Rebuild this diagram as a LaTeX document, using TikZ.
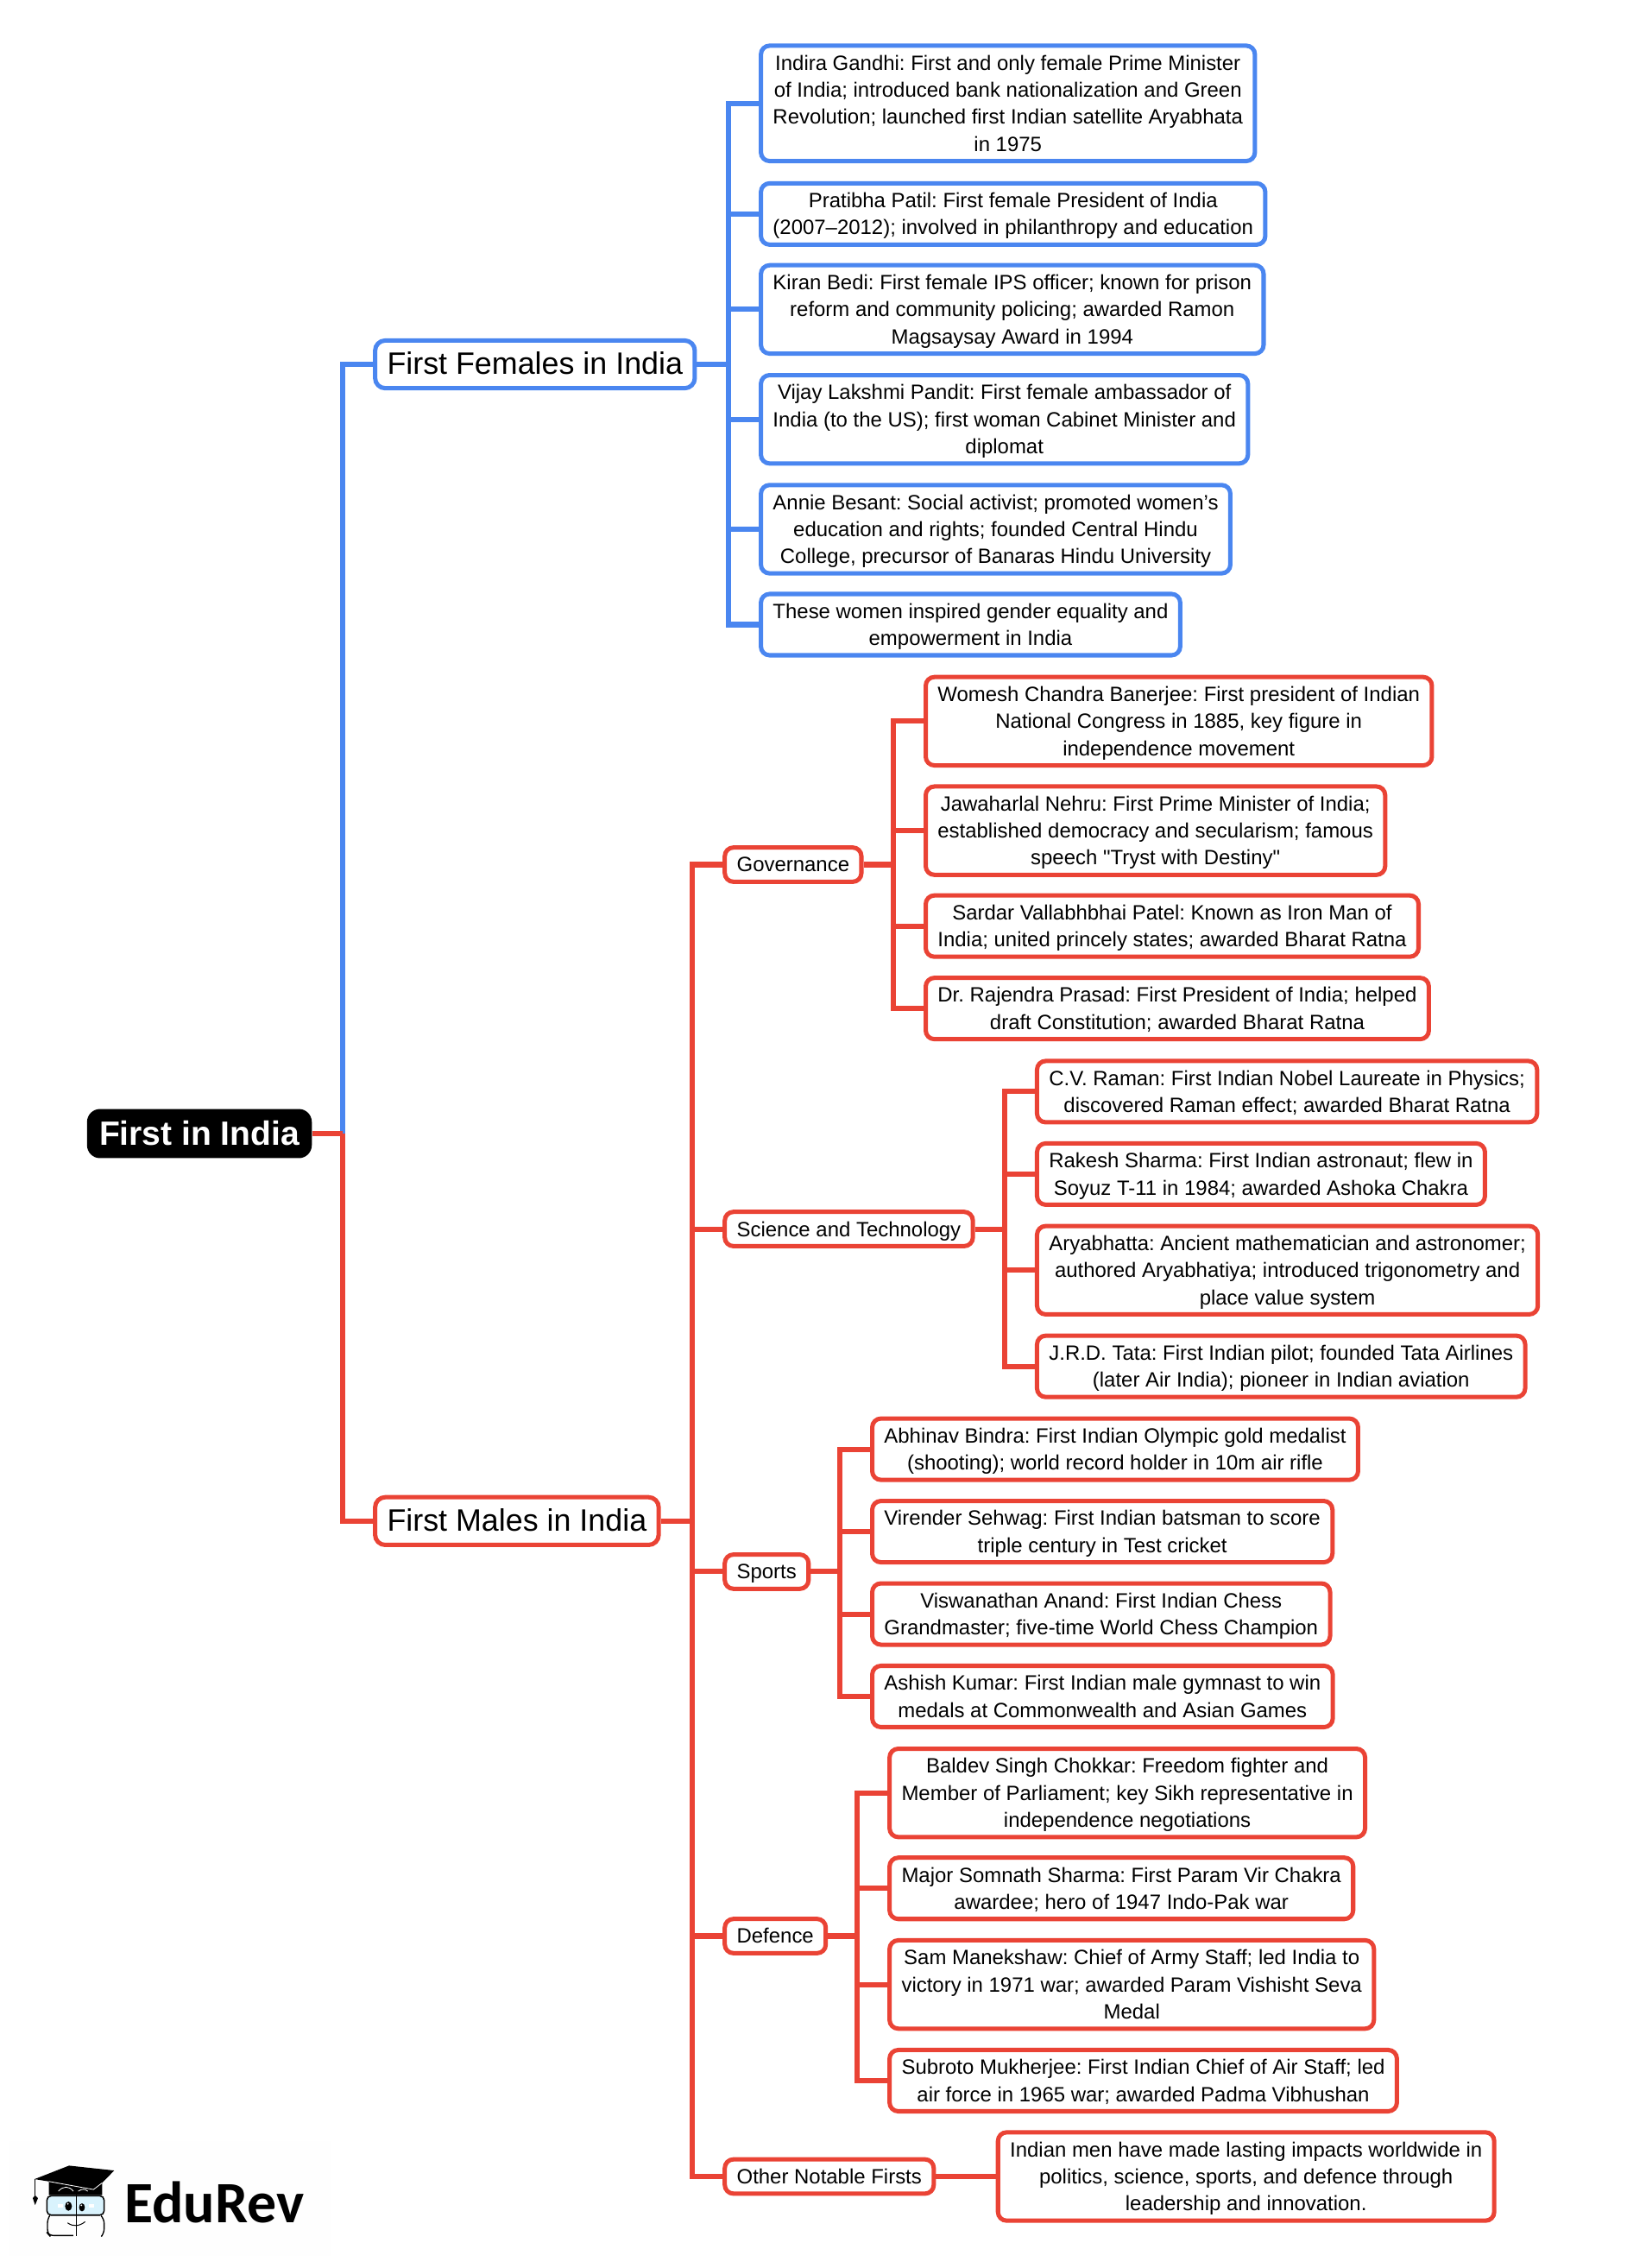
\documentclass[tikz,border=0pt]{standalone}
\usepackage{fontspec}
\setmainfont{Liberation Sans}
\newfontfamily\quotefont{Liberation Sans}
\newfontfamily\logofont{Carlito}
\usetikzlibrary{calc}
\definecolor{bluelink}{HTML}{4A86F0}
\definecolor{redlink}{HTML}{EA4335}
\def\plainquote{{\quotefont"}}
\tikzset{
	rootbox/.style={anchor=west, fill=black, text=white, rounded corners=9, inner xsep=8.5, inner ysep=3,
		text height=22.2pt, text depth=5.8pt, font=\fontsize{23.3}{28}\selectfont\bfseries},
	topbox/.style={anchor=west, draw, line width=3, rounded corners=7, inner xsep=8.3, inner ysep=3.5,
		text height=19.7pt, text depth=6.3pt, font=\fontsize{21.4}{26}\selectfont},
	leafbox/.style={anchor=west, draw, line width=3, rounded corners=6, align=center, inner xsep=8.3, inner ysep=2.5,
		text height=14.4pt, text depth=4.3pt, font=\fontsize{14.3}{18.7}\selectfont\frenchspacing},
	lines2/.style={text height=33.1pt},
	lines3/.style={text height=51.8pt},
	lines4/.style={text height=70.5pt},
	femalebox/.style={leafbox, draw=bluelink},
	malebox/.style={leafbox, draw=redlink},
	bluewire/.style={draw=bluelink, line width=3.6},
	redwire/.style={draw=redlink, line width=3.6}
}

\begin{document}
\begin{tikzpicture}[x=1pt, y=-1pt]
		%%%%% START %%%%%
		\useasboundingbox (0, 0) rectangle (1125, 1568.6);
		
		\node[rootbox] (root) at (60, 784) {First in India};
		\node[topbox, draw=bluelink] (females) at (258, 252) {First Females in India};
		\node[topbox, draw=redlink] (males) at (258, 1052) {First Males in India};
		
		\coordinate (trunk) at (237, 784);
		\coordinate (femalebus) at (504, 252);
		\coordinate (malebus) at (479, 1052);
		\coordinate (govbus) at (618, 598);
		\coordinate (scibus) at (695, 850);
		\coordinate (sportbus) at (581, 1087);
		\coordinate (defbus) at (593, 1339);
		
		\node[femalebox, lines4] (fem1) at (524.9, 71.5) {Indira Gandhi: First and only female Prime Minister\\of India; introduced bank nationalization and Green\\Revolution; launched first Indian satellite Aryabhata\\in 1975};
		\node[femalebox, lines2] (fem2) at (524.9, 148) {Pratibha Patil: First female President of India\\(2007--2012); involved in philanthropy and education};
		\node[femalebox, lines3] (fem3) at (524.9, 214) {Kiran Bedi: First female IPS officer; known for prison\\reform and community policing; awarded Ramon\\Magsaysay Award in 1994};
		\node[femalebox, lines3] (fem4) at (524.9, 290) {Vijay Lakshmi Pandit: First female ambassador of\\India (to the US); first woman Cabinet Minister and\\diplomat};
		\node[femalebox, lines3] (fem5) at (524.9, 366) {Annie Besant: Social activist; promoted women's\\education and rights; founded Central Hindu\\College, precursor of Banaras Hindu University};
		\node[femalebox, lines2] (fem6) at (524.9, 432) {These women inspired gender equality and\\empowerment in India};
		
		\node[malebox] (gov) at (499.9, 598) {Governance};
		\node[malebox] (sci) at (499.9, 850) {Science and Technology};
		\node[malebox] (sport) at (499.9, 1087) {Sports};
		\node[malebox] (def) at (499.9, 1339) {Defence};
		\node[malebox] (other) at (499.9, 1505.3) {Other Notable Firsts};
		
		\node[malebox, lines3] (gov1) at (638.9, 498.8) {Womesh Chandra Banerjee: First president of Indian\\National Congress in 1885, key figure in\\independence movement};
		\node[malebox, lines3] (gov2) at (638.9, 574.5) {Jawaharlal Nehru: First Prime Minister of India;\\established democracy and secularism; famous\\speech \plainquote Tryst with Destiny\plainquote};
		\node[malebox, lines2] (gov3) at (638.9, 640.5) {Sardar Vallabhbhai Patel: Known as Iron Man of\\India; united princely states; awarded Bharat Ratna};
		\node[malebox, lines2] (gov4) at (638.9, 697.5) {Dr. Rajendra Prasad: First President of India; helped\\draft Constitution; awarded Bharat Ratna};
		
		\node[malebox, lines2] (sci1) at (715.9, 755) {C.V. Raman: First Indian Nobel Laureate in Physics;\\discovered Raman effect; awarded Bharat Ratna};
		\node[malebox, lines2] (sci2) at (715.9, 812) {Rakesh Sharma: First Indian astronaut; flew in\\Soyuz T-11 in 1984; awarded Ashoka Chakra};
		\node[malebox, lines3] (sci3) at (715.9, 878.5) {Aryabhatta: Ancient mathematician and astronomer;\\authored Aryabhatiya; introduced trigonometry and\\place value system};
		\node[malebox, lines2] (sci4) at (715.9, 945) {J.R.D. Tata: First Indian pilot; founded Tata Airlines\\(later Air India); pioneer in Indian aviation};
		
		\node[malebox, lines2] (sport1) at (601.9, 1002.3) {Abhinav Bindra: First Indian Olympic gold medalist\\(shooting); world record holder in 10m air rifle};
		\node[malebox, lines2] (sport2) at (601.9, 1059.3) {Virender Sehwag: First Indian batsman to score\\triple century in Test cricket};
		\node[malebox, lines2] (sport3) at (601.9, 1116.3) {Viswanathan Anand: First Indian Chess\\Grandmaster; five-time World Chess Champion};
		\node[malebox, lines2] (sport4) at (601.9, 1173.3) {Ashish Kumar: First Indian male gymnast to win\\medals at Commonwealth and Asian Games};
		
		\node[malebox, lines3] (def1) at (613.9, 1240) {Baldev Singh Chokkar: Freedom fighter and\\Member of Parliament; key Sikh representative in\\independence negotiations};
		\node[malebox, lines2] (def2) at (613.9, 1306) {Major Somnath Sharma: First Param Vir Chakra\\awardee; hero of 1947 Indo-Pak war};
		\node[malebox, lines3] (def3) at (613.9, 1372.5) {Sam Manekshaw: Chief of Army Staff; led India to\\victory in 1971 war; awarded Param Vishisht Seva\\Medal};
		\node[malebox, lines2] (def4) at (613.9, 1439) {Subroto Mukherjee: First Indian Chief of Air Staff; led\\air force in 1965 war; awarded Padma Vibhushan};
		
		\node[malebox, lines3] (other1) at (688.9, 1505.3) {Indian men have made lasting impacts worldwide in\\politics, science, sports, and defence through\\leadership and innovation.};
		
		\draw[bluewire] (trunk) |- (females.west);
		\draw[bluewire] (females.east) -- (femalebus);
		\draw[bluewire] (femalebus) |- (fem1.west);
		\draw[bluewire] (femalebus) |- (fem2.west);
		\draw[bluewire] (femalebus) |- (fem3.west);
		\draw[bluewire] (femalebus) |- (fem4.west);
		\draw[bluewire] (femalebus) |- (fem5.west);
		\draw[bluewire] (femalebus) |- (fem6.west);
		
		\draw[redwire] (root.east) -- (trunk);
		\draw[redwire] (trunk) |- (males.west);
		\draw[redwire] (males.east) -- (malebus);
		\draw[redwire] (malebus) |- (gov.west);
		\draw[redwire] (malebus) |- (sci.west);
		\draw[redwire] (malebus) |- (sport.west);
		\draw[redwire] (malebus) |- (def.west);
		\draw[redwire] (malebus) |- (other.west);
		
		\draw[redwire] (gov.east) -- (govbus);
		\draw[redwire] (govbus) |- (gov1.west);
		\draw[redwire] (govbus) |- (gov2.west);
		\draw[redwire] (govbus) |- (gov3.west);
		\draw[redwire] (govbus) |- (gov4.west);
		
		\draw[redwire] (sci.east) -- (scibus);
		\draw[redwire] (scibus) |- (sci1.west);
		\draw[redwire] (scibus) |- (sci2.west);
		\draw[redwire] (scibus) |- (sci3.west);
		\draw[redwire] (scibus) |- (sci4.west);
		
		\draw[redwire] (sport.east) -- (sportbus);
		\draw[redwire] (sportbus) |- (sport1.west);
		\draw[redwire] (sportbus) |- (sport2.west);
		\draw[redwire] (sportbus) |- (sport3.west);
		\draw[redwire] (sportbus) |- (sport4.west);
		
		\draw[redwire] (def.east) -- (defbus);
		\draw[redwire] (defbus) |- (def1.west);
		\draw[redwire] (defbus) |- (def2.west);
		\draw[redwire] (defbus) |- (def3.west);
		\draw[redwire] (defbus) |- (def4.west);
		
		\draw[redwire] (other.east) -- (other1.west);
		
		% logo
		\fill[black!0.5] (6, 1481) rectangle (229, 1560);
		\node[font=\fontsize{40.5}{44}\logofont\bfseries, anchor=base west, inner sep=0] (logotext) at (86, 1537) {EduRev};
		\begin{scope}[shift={(0, 1433.1)}, x=0.199pt, y=-0.199pt]
			\fill (120, 372) -- (240, 325) -- (397, 342) -- (355, 385) -- (355, 428) -- (170, 428) -- (170, 380) -- cycle;
			\draw[white, line width=0.5] (170, 380) -- (325, 408) -- (355, 385);
			\draw[line width=0.6] (122, 372) -- (122, 430);
			\fill (122, 428) -- (132, 438) -- (122, 462) -- (114, 438) -- cycle;
			\draw[white, line width=0.5] (203, 414) .. controls (220, 395) and (240, 395) .. (255, 414);
			\draw[white, line width=0.5] (272, 414) .. controls (285, 405) and (295, 405) .. (305, 414);
			\draw[line width=0.9, fill=cyan!15, rounded corners=3] (163, 430) rectangle (362, 497);
			\draw[line width=0.8, rounded corners=3] (255, 568) -- (172, 568) -- (165, 560) -- (165, 510) -- (172, 500);
			\draw[line width=0.8, rounded corners=3] (352, 500) -- (362, 510) -- (362, 560) -- (355, 568);
			\draw[line width=0.8] (265, 425) -- (265, 570);
			\draw[line width=0.6] (235, 524) .. controls (255, 538) and (275, 536) .. (296, 520);
			\fill (238, 466) ellipse [x radius=12, y radius=16];
			\fill (285, 470) ellipse [x radius=10, y radius=14];
			\fill[white] (236, 458) circle (3);
			\fill[white] (283, 463) circle (3);
			\fill[white] (202, 458) rectangle (218, 470);
			\fill[white] (310, 458) rectangle (326, 470);
		\end{scope}
		
		%%%%% END %%%%%
	\end{tikzpicture}
\end{document}
